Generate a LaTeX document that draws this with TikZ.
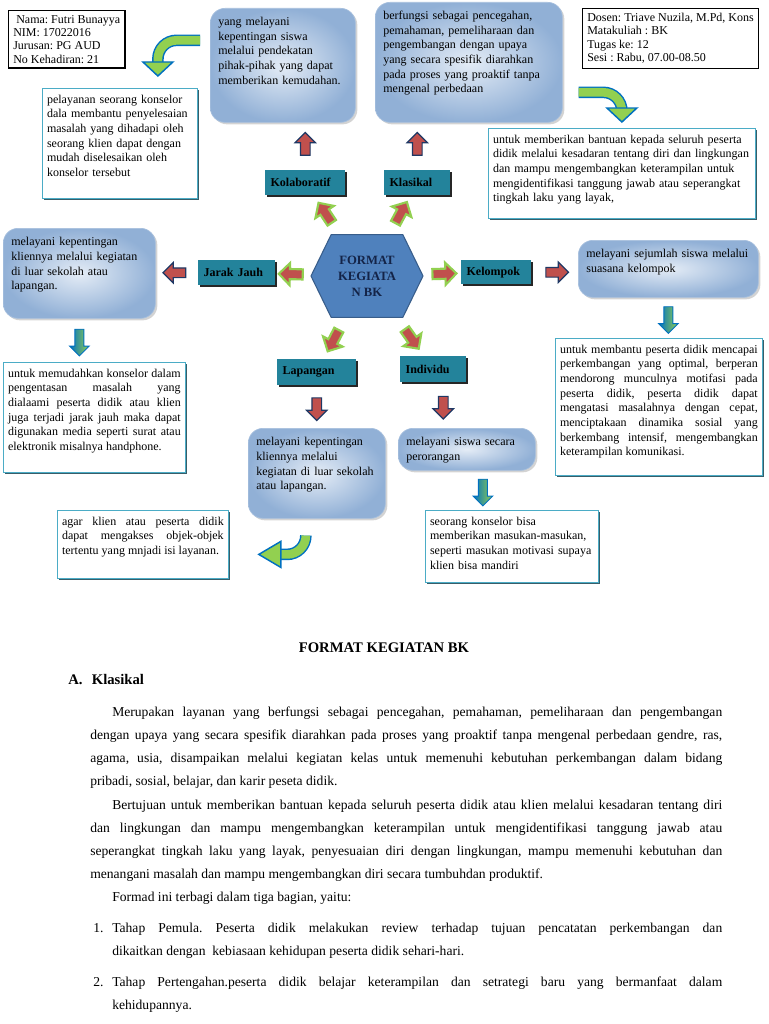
\documentclass[tikz,border=0pt]{standalone}
\usepackage{fontspec}
\setmainfont{Liberation Serif}
\usepackage{tikz}
\usetikzlibrary{shapes.arrows,shapes.symbols,shadows,calc}
\definecolor{tagteal}{RGB}{35,131,155}
\definecolor{frameteal}{RGB}{75,172,198}
\definecolor{hexblue}{RGB}{79,129,189}
\definecolor{hexedge}{RGB}{56,93,138}
\definecolor{hexink}{RGB}{20,36,72}
\definecolor{softblue}{RGB}{145,176,214}
\definecolor{softlight}{RGB}{228,236,246}
\definecolor{arrowred}{RGB}{192,80,77}
\definecolor{arrownavy}{RGB}{31,56,100}
\definecolor{leafgreen}{RGB}{146,208,80}
\definecolor{bandblue}{RGB}{0,112,192}
\frenchspacing

\begin{document}
\begin{tikzpicture}[
    x=0.75pt, y=-0.75pt,
    info/.style={draw, line width=0.9pt, anchor=north west, align=left, inner sep=3.5pt, font=\fontsize{9}{10}\selectfont},
    note/.style={draw=frameteal, line width=0.6pt, fill=white, anchor=north west, align=left, inner xsep=3.5pt, inner ysep=4pt, text height=7pt, font=\fontsize{9}{11}\selectfont, drop shadow={shadow xshift=1.3pt, shadow yshift=-1.3pt, fill=frameteal!45!black, opacity=0.9}},
    soft/.style={rounded corners=11pt, draw=softblue!80, line width=0.5pt, inner color=softlight, outer color=softblue, anchor=north west, align=left, inner xsep=6pt, inner ysep=6pt, text height=7pt, font=\fontsize{9}{11}\selectfont, drop shadow={shadow xshift=1.5pt, shadow yshift=-1.5pt, opacity=0.35}},
    tag/.style={fill=tagteal, anchor=north west, align=left, inner xsep=4pt, font=\bfseries\fontsize{9}{10}\selectfont, drop shadow={shadow xshift=1.5pt, shadow yshift=-1.5pt, fill=black!85, opacity=1}},
    hexa/.style={signal, signal to=east and west, signal pointer angle=128, fill=hexblue, draw=hexedge, line width=0.8pt, minimum width=84pt, minimum height=62pt, align=center, font=\bfseries\fontsize{9.5}{12}\selectfont, text=hexink},
    burst/.style={single arrow, fill=arrowred, draw=leafgreen, line width=1.6pt, minimum height=18pt, inner sep=3pt, single arrow head extend=4.5pt, sloped, allow upside down},
    blockred/.style={single arrow, fill=arrowred, draw=arrownavy, line width=0.9pt, minimum height=17pt, inner sep=3.2pt, single arrow head extend=4pt, sloped, allow upside down},
    blockgreen/.style={single arrow, left color=bandblue, right color=leafgreen, draw=bandblue, line width=0.7pt, minimum height=20pt, inner sep=3pt, single arrow head extend=4pt, sloped, allow upside down},
    band/.style={draw=bandblue, line width=1.1pt, double=leafgreen, double distance=6.5pt, rounded corners=14pt},
    bandhead/.style={fill=leafgreen, draw=bandblue, line width=1.1pt},
    para/.style={anchor=base west, inner sep=0pt, align=justify, font=\fontsize{10.2}{17.25}\selectfont}
]
\useasboundingbox (0,0) rectangle (768,1024);

% header
\node[info] (nama) at (8,10) {\ Nama: Futri Bunayya\\NIM: 17022016\\Jurusan: PG AUD\\No Kehadiran: 21};
\node[info] (dosen) at (582,8) {Dosen: Triave Nuzila, M.Pd, Kons\\Matakuliah : BK\\Tugas ke: 12\\Sesi : Rabu, 07.00-08.50};

% centre
\node[hexa] (hex) at (367,276) {FORMAT\\KEGIATA\\N BK};
\node[tag, text width=52pt, minimum height=18.75pt] (kol) at (265,170) {Kolaboratif};
\node[tag, text width=41.5pt, minimum height=18.75pt] (kla) at (384,170) {Klasikal};
\node[tag, text width=49.75pt, minimum height=18.75pt] (jar) at (198,260) {Jarak Jauh};
\node[tag, text width=44.5pt, minimum height=18pt] (kel) at (461,260) {Kelompok};
\node[tag, text width=51.25pt, minimum height=19.5pt] (lap) at (277,359) {Lapangan};
\node[tag, text width=41.5pt, minimum height=19.5pt] (ind) at (400,356) {Individu};

% rounded boxes
\node[soft, text width=96.75pt, text depth=66.5pt] (yml) at (210,8) {yang melayani\\kepentingan siswa\\melalui pendekatan\\pihak-pihak yang dapat\\memberikan kemudahan.};
\node[soft, text width=128.25pt, text depth=71pt] (bfs) at (375,2) {berfungsi sebagai pencegahan,\\pemahaman, pemeliharaan dan\\pengembangan dengan upaya\\yang secara spesifik diarahkan\\pada proses yang proaktif tanpa\\mengenal perbedaan};
\node[soft, text width=102pt, text depth=48.5pt] (mkl) at (3,228) {melayani kepentingan\\kliennya melalui kegiatan\\di luar sekolah atau\\lapangan.};
\node[soft, text width=123pt, text depth=23.75pt] (msw) at (578,240) {melayani sejumlah siswa melalui\\suasana kelompok};
\node[soft, text width=90.75pt, text depth=48.5pt] (mkl2) at (248,428) {melayani kepentingan\\kliennya melalui\\kegiatan di luar sekolah\\atau lapangan.};
\node[soft, text width=90.75pt, text depth=12.5pt] (mso) at (398,428) {melayani siswa secara\\perorangan};

% white boxes
\node[note, text width=109.25pt, text depth=67.5pt] (pel) at (42,88) {pelayanan seorang konselor\\dala membantu penyelesaian\\masalah yang dihadapi oleh\\seorang klien dapat dengan\\mudah diselesaikan oleh\\konselor tersebut};
\node[note, text width=193.25pt, text depth=52.5pt] (umb) at (488,128) {untuk memberikan bantuan kepada seluruh peserta\\didik melalui kesadaran tentang diri dan lingkungan\\dan mampu mengembangkan keterampilan untuk\\mengidentifikasi tanggung jawab atau seperangkat\\tingkah laku yang layak,};
\node[note, align=justify, text width=129.5pt, text depth=67.5pt] (umk) at (3,362) {untuk memudahkan konselor dalam\linebreak pengentasan masalah yang\linebreak dialaami peserta didik atau klien\linebreak juga terjadi jarak jauh maka dapat\linebreak digunakan media seperti surat atau\linebreak elektronik misalnya handphone.};
\node[note, align=justify, text width=148.25pt, text depth=87.75pt] (ump) at (555,338) {untuk membantu peserta didik mencapai\linebreak perkembangan yang optimal, berperan\linebreak mendorong munculnya motifasi pada\linebreak peserta didik, peserta didik dapat\linebreak mengatasi masalahnya dengan cepat,\linebreak menciptakaan dinamika sosial yang\linebreak berkembang intensif, mengembangkan\linebreak keterampilan komunikasi.};
\node[note, align=justify, text width=121.25pt, text depth=36pt] (agr) at (57,510) {agar klien atau peserta didik\linebreak dapat mengakses objek-objek\linebreak tertentu yang mnjadi isi layanan.};
\node[note, text width=122.75pt, text depth=39pt] (skb) at (425,510) {seorang konselor bisa\\memberikan masukan-masukan,\\seperti masukan motivasi supaya\\klien bisa mandiri};

% arrows out of the hexagon
\foreach \t in {kol,kla,jar,kel,lap,ind}
    \path (hex) -- (\t) node[burst, midway] {};

% block arrows
\path (kol.north) -- (kol.north |- yml.south) node[blockred, midway] {};
\path (kla.north) -- (kla.north |- bfs.south) node[blockred, midway] {};
\path (jar.west) -- (jar.west -| mkl.east) node[blockred, midway] {};
\path (kel.east) -- (kel.east -| msw.west) node[blockred, midway] {};
\path (lap.south) -- (lap.south |- mkl2.north) node[blockred, midway] {};
\coordinate (indfoot) at ($(ind.south)+(10,0)$);
\path (indfoot) -- (indfoot |- mso.north) node[blockred, midway] {};
\path (mkl.south) -- (mkl.south |- umk.north) node[blockgreen, midway] {};
\path (msw.south) -- (msw.south |- ump.north) node[blockgreen, midway] {};
\coordinate (msofoot) at ($(mso.south)+(16,0)$);
\path (msofoot) -- (msofoot |- skb.north) node[blockgreen, midway] {};

% bent arrows
\coordinate (t1) at ($(pel.north)+(38,-26)$);
\draw[band] ($(yml.west)+(-10,-25)$) -| (t1);
\filldraw[bandhead] ($(t1)+(-15,0)$) -- ($(t1)+(15,0)$) -- ($(t1)+(0,14)$) -- cycle;
\coordinate (t2) at ($(umb.north)+(0,-20)$);
\draw[band] ($(bfs.east)+(16,30)$) -| (t2);
\filldraw[bandhead] ($(t2)+(-15,0)$) -- ($(t2)+(15,0)$) -- ($(t2)+(0,14)$) -- cycle;
\coordinate (t3) at ($(agr.east)+(52,10)$);
\draw[band] ($(mkl2.south)+(-11,17)$) |- (t3);
\filldraw[bandhead] ($(t3)+(0,-13)$) -- ($(t3)+(0,13)$) -- ($(t3)+(-22,0)$) -- cycle;

% text below
\node[font=\bfseries\fontsize{11}{13}\selectfont, anchor=base] (title) at (384,652) {FORMAT KEGIATAN BK};
\node[font=\bfseries\fontsize{11}{13}\selectfont, anchor=base west, inner sep=0pt] (secA) at (68,684) {A.\hspace{7pt}Klasikal};
\node[para, text width=474pt] (par1) at (90,716) {\hspace*{16.5pt}Merupakan layanan yang berfungsi sebagai pencegahan, pemahaman, pemeliharaan dan pengembangan\linebreak dengan upaya yang secara spesifik diarahkan pada proses yang proaktif tanpa mengenal perbedaan gendre, ras,\linebreak agama, usia, disampaikan melalui kegiatan kelas untuk memenuhi kebutuhan perkembangan dalam bidang\linebreak pribadi, sosial, belajar, dan karir peseta didik.};
\node[para, text width=474pt] (par2) at (90,809) {\hspace*{16.5pt}Bertujuan untuk memberikan bantuan kepada seluruh peserta didik atau klien melalui kesadaran tentang diri\linebreak dan lingkungan dan mampu mengembangkan keterampilan untuk mengidentifikasi tanggung jawab atau\linebreak seperangkat tingkah laku yang layak, penyesuaian diri dengan lingkungan, mampu memenuhi kebutuhan dan\linebreak menangani masalah dan mampu mengembangkan diri secara tumbuhdan produktif.};
\node[para, text width=474pt] (par3) at (112,901) {Formad ini terbagi dalam tiga bagian, yaitu:};
\node[para] (num1) at (93,932) {1.};
\node[para, text width=457.5pt] (item1) at (112,932) {Tahap Pemula. Peserta didik melakukan review terhadap tujuan pencatatan perkembangan dan\linebreak dikaitkan dengan\ \ kebiasaan kehidupan peserta didik sehari-hari.};
\node[para] (num2) at (93,986) {2.};
\node[para, text width=457.5pt] (item2) at (112,986) {Tahap Pertengahan.peserta didik belajar keterampilan dan setrategi baru yang bermanfaat dalam\linebreak kehidupannya.};
\end{tikzpicture}
\end{document}
